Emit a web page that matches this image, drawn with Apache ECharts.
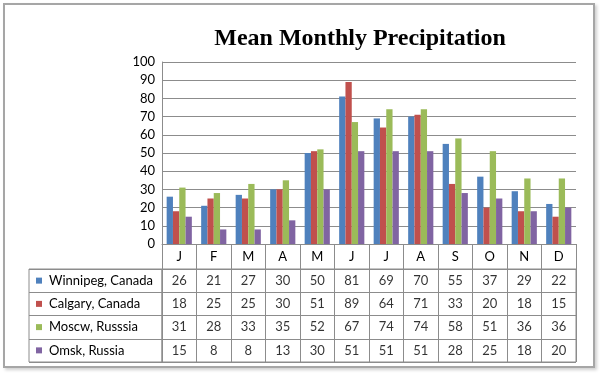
<!DOCTYPE html>
<html>
<head>
<meta charset="utf-8">
<script src="https://cdn.jsdelivr.net/npm/echarts@6/dist/echarts.min.js"></script>
<style>
  html, body { margin: 0; padding: 0; background: #fff; }
  .frame {
    position: absolute; left: 3px; top: 3px; width: 588px; height: 361px;
    border: 2px solid #a6a6a6; box-shadow: 2px 2px 3px #cfcfcf;
  }
  #chartBox { position: absolute; left: 0; top: 0; width: 602px; height: 375px; }
</style>
</head>
<body>
<div class="frame"></div>
<div id="chartBox"></div>
<script>
// 月份
var months = ["J", "F", "M", "A", "M", "J", "J", "A", "S", "O", "N", "D"];
// 城市
var cities = ["Winnipeg, Canada", "Calgary, Canada", "Moscw, Russsia", "Omsk, Russia"];
var colors = ["#4f81bd", "#c0504d", "#9bbb59", "#8064a2"];
// 降水量
var winnipeg = [26, 21, 27, 30, 50, 81, 69, 70, 55, 37, 29, 22];
var calgary = [18, 25, 25, 30, 51, 89, 64, 71, 33, 20, 18, 15];
var moscow = [31, 28, 33, 35, 52, 67, 74, 74, 58, 51, 36, 36];
var omsk = [15, 8, 8, 13, 30, 51, 51, 51, 28, 25, 18, 20];
var yTicks = [0, 100, 10]; // min, max, interval

var allData = [winnipeg, calgary, moscow, omsk];
var lineColor = "#8c8c8c";
var txtFont = "Lato";

var chart = echarts.init(document.getElementById("chartBox"));

// 表格单元格数据 [列, 行, 值]
var cells = [];
allData.forEach(function (arr, r) {
  arr.forEach(function (v, c) {
    cells.push([c, r, v]);
  });
});

var rich = { g: { width: 7 } };
colors.forEach(function (c, i) {
  rich["s" + i] = { width: 6, height: 6, backgroundColor: c };
});
rich.t = { fontFamily: txtFont, fontSize: 13, color: "#000" };

var barSeries = allData.map(function (arr, i) {
  return {
    name: cities[i],
    type: "bar",
    data: arr,
    xAxisIndex: 0,
    yAxisIndex: 0,
    barGap: "0%",
    barCategoryGap: "27%",
    itemStyle: { color: colors[i] },
    silent: true,
  };
});

var option = {
  animation: false,
  title: {
    text: "Mean Monthly Precipitation",
    left: 355,
    textAlign: "center",
    top: 22,
    textStyle: {
      fontFamily: "Liberation Serif",
      fontWeight: "bold",
      fontSize: 24,
      color: "#000",
    },
  },
  grid: [
    { left: 162, top: 62, width: 414, height: 182 },
    { left: 29, top: 269, width: 133, height: 93, show: true, borderColor: lineColor, borderWidth: 1 },
    { left: 162, top: 269, width: 414, height: 93, show: true, borderColor: lineColor, borderWidth: 1 },
  ],
  xAxis: [
    {
      gridIndex: 0,
      type: "category",
      data: months,
      axisLine: { lineStyle: { color: lineColor } },
      axisTick: { show: true, length: 25, lineStyle: { color: lineColor } },
      axisLabel: { fontFamily: txtFont, fontSize: 13, color: "#000", margin: 6 },
    },
    { gridIndex: 1, type: "value", show: false, min: 0, max: 1 },
    {
      gridIndex: 2,
      type: "category",
      data: months,
      axisLine: { show: false },
      axisTick: { show: false },
      axisLabel: { show: false },
      splitLine: { show: true, lineStyle: { color: lineColor } },
    },
  ],
  yAxis: [
    {
      gridIndex: 0,
      type: "value",
      min: yTicks[0],
      max: yTicks[1],
      interval: yTicks[2],
      axisLine: { show: true, lineStyle: { color: lineColor } },
      axisTick: { show: false },
      axisLabel: { fontFamily: txtFont, fontSize: 13, color: "#000", margin: 7 },
      splitLine: { lineStyle: { color: lineColor } },
    },
    {
      gridIndex: 1,
      type: "category",
      data: cities,
      inverse: true,
      axisLine: { show: false },
      axisTick: { show: false },
      splitLine: { show: true, lineStyle: { color: lineColor } },
      axisLabel: {
        inside: true,
        margin: 7,
        formatter: function (v, i) {
          return "{s" + i + "|}{g|}{t|" + v + "}";
        },
        rich: rich,
      },
    },
    {
      gridIndex: 2,
      type: "category",
      data: cities,
      inverse: true,
      axisLine: { show: false },
      axisTick: { show: false },
      axisLabel: { show: false },
      splitLine: { show: true, lineStyle: { color: lineColor } },
    },
  ],
  series: barSeries.concat([
    {
      type: "scatter",
      xAxisIndex: 2,
      yAxisIndex: 2,
      symbolSize: 0,
      silent: true,
      data: cells,
      label: {
        show: true,
        position: "inside",
        formatter: function (p) {
          return p.value[2];
        },
        fontFamily: txtFont,
        fontSize: 13,
        color: "#000",
      },
    },
  ]),
};

chart.setOption(option);
</script>
</body>
</html>
